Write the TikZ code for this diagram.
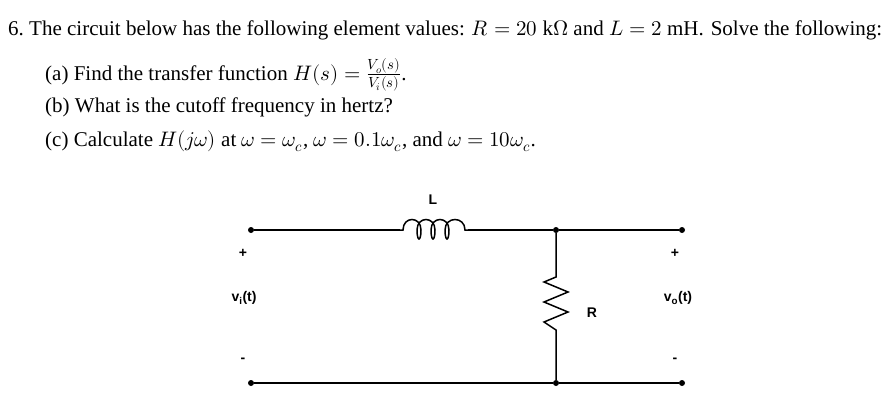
\documentclass[tikz,border=0pt]{standalone}
\usepackage{fontspec}
\setmainfont{Liberation Serif}
\setsansfont{Liberation Sans}
\usepackage{unicode-math}
\setmathfont{Latin Modern Math}
\usetikzlibrary{decorations.pathmorphing}
\begin{document}
\begin{tikzpicture}[x=1pt,y=-1pt,
  txt/.style={anchor=west,inner sep=0pt,font=\fontsize{21}{25}\selectfont},
  lab/.style={inner sep=0pt,font=\sffamily\bfseries\fontsize{14}{16}\selectfont},
  wire/.style={line width=1.5pt},
  dot/.style={circle,fill,inner sep=0pt,minimum size=6pt}]
\useasboundingbox (0,0) rectangle (893,412);
\node[txt] (t0) at (8,30) {6.\ The circuit below has the following element values: $R=20\ \mathrm{k}\Omega$ and $L=2\ \mathrm{mH}$. Solve the following:};
\node[txt] (ta) at (45,75) {(a)\ Find the transfer function $H(s)=\frac{V_o(s)}{V_i(s)}$.};
\node[txt] (tb) at (45,107) {(b)\ What is the cutoff frequency in hertz?};
\node[txt] (tc) at (45,141) {(c)\ Calculate $H(j\omega)$ at $\omega=\omega_c$, $\omega=0.1\omega_c$, and $\omega=10\omega_c$.};
\node[dot] (a) at (251,230) {};
\node[dot] (b) at (682,230) {};
\node[dot] (c) at (251,383) {};
\node[dot] (d) at (682,383) {};
\node[dot] (j1) at (556,230) {};
\node[dot] (j2) at (556,383) {};
\coordinate (l1) at (400,230);
\coordinate (l2) at (468,230);
\coordinate (r1) at (556,277);
\coordinate (r2) at (556,335);
\draw[wire] (a) -- (l1);
\draw[wire] (l1) -- ++(3,0)
  .. controls +(0,-14) and +(0,-14) .. ++(18,0) .. controls +(0,12) and +(0,12) .. ++(-4,0)
  .. controls +(0,-14) and +(0,-14) .. ++(18,0) .. controls +(0,12) and +(0,12) .. ++(-4,0)
  .. controls +(0,-14) and +(0,-14) .. ++(18,0) .. controls +(0,12) and +(0,12) .. ++(-4,0)
  .. controls +(0,-14) and +(0,-14) .. ++(20,0) -- (l2);
\draw[wire] (l2) -- (j1) -- (b);
\draw[wire] (j1) -- (r1) -- ++(-12,5) -- ++(24,10) -- ++(-24,10) -- ++(24,10) -- ++(-24,10) -- ++(12,8) -- (r2) -- (j2);
\draw[wire] (c) -- (j2) -- (d);
\node[lab] (lL) at (433,200) {L};
\node[lab] (lR) at (592,313) {R};
\node[lab] (p1) at (243,253) {+};
\node[lab] (p2) at (675,253) {+};
\node[lab] (m1) at (243,360) {-};
\node[lab] (m2) at (675,360) {-};
\node[lab] (vi) at (244,298) {v\textsubscript{i}(t)};
\node[lab] (vo) at (678,298) {v\textsubscript{o}(t)};
\end{tikzpicture}
\end{document}
